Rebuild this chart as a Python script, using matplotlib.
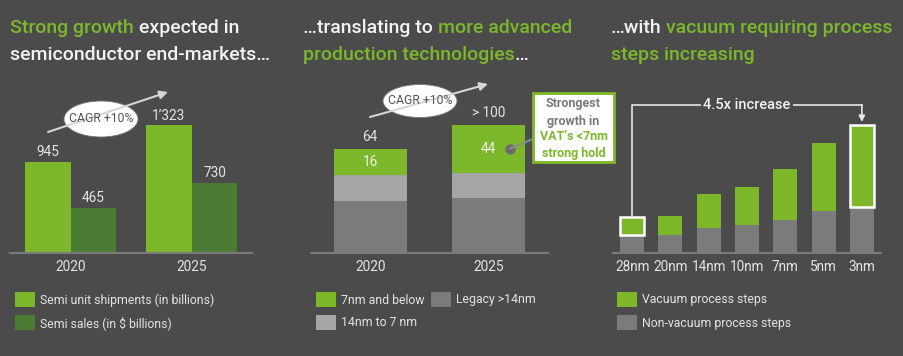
import numpy as np
import matplotlib.pyplot as plt
from matplotlib.patches import Ellipse, Rectangle, ConnectionPatch

W, H = 904, 356
BG = '#4b4b4b'
GREEN = '#7cb82a'
DGREEN = '#4a7d33'
LGRAY = '#a6a6a6'
MGRAY = '#7b7b7b'
WHITE = '#f2f2f2'
TXT = '#e4e4e4'
AXIS = '#7a7a7a'

plt.rcParams['font.family'] = ['Roboto', 'DejaVu Sans']

# panel 1: end markets
years = ['2020', '2025']
unit_shipments = [945, 1323]
semi_sales = [465, 730]
shipment_labels = ['945', '1\u2019323']
sales_labels = ['465', '730']

# panel 2: production technologies (bar heights as drawn)
legacy = [32, 34]
mid_nodes = [16, 15.5]
adv_nodes = [16, 29.5]
total_labels = ['64', '> 100']
adv_labels = ['16', '44']

# panel 3: process steps per node
nodes = ['28nm', '20nm', '14nm', '10nm', '7nm', '5nm', '3nm']
non_vacuum = [18, 18, 25, 28, 33, 42, 46]
vacuum = [18, 19, 34, 38, 51, 68, 82]

fig = plt.figure(figsize=(W / 100, H / 100), dpi=100, facecolor=BG)


def px_axes(left, right, top, bottom):
    return fig.add_axes([left / W, 1 - bottom / H, (right - left) / W, (bottom - top) / H])


def style(ax):
    ax.set_facecolor('none')
    for s in ['top', 'right', 'left']:
        ax.spines[s].set_visible(False)
    ax.spines['bottom'].set_color(AXIS)
    ax.spines['bottom'].set_linewidth(1.5)
    ax.tick_params(axis='x', length=0, pad=5, labelsize=9.8, labelcolor=TXT)
    ax.set_yticks([])


# overlay in pixel coordinates for titles, legends, callouts
ov = fig.add_axes([0, 0, 1, 1], zorder=10)
ov.set_xlim(0, W)
ov.set_ylim(H, 0)
ov.axis('off')

renderer = fig.canvas.get_renderer()


def text_width(s, size, weight):
    t = ov.text(0, 0, s, fontsize=size, fontweight=weight)
    w = t.get_window_extent(renderer).width
    t.remove()
    return w


def rich_line(x, y, parts, size=14, weight='medium'):
    space = text_width('a a', size, weight) - text_width('aa', size, weight)
    for s, c in parts:
        lead = len(s) - len(s.lstrip(' '))
        x += lead * space
        core = s.strip(' ')
        t = ov.text(x, y, core, color=c, fontsize=size, fontweight=weight, va='baseline', ha='left')
        x += t.get_window_extent(renderer).width
        x += (len(s) - len(s.rstrip(' '))) * space


# ---- panel 1
ax1 = px_axes(10, 252, 60, 253)
style(ax1)
x = np.arange(len(years))
bw = 0.38
b1 = ax1.bar(x - bw / 2, unit_shipments, bw, color=GREEN)
b2 = ax1.bar(x + bw / 2, semi_sales, bw, color=DGREEN)
ax1.set_xlim(-0.5, 1.5)
ax1.set_ylim(0, 2000)
ax1.set_xticks(x, years)
ax1.bar_label(b1, labels=shipment_labels, padding=2, color=TXT, fontsize=9.8)
ax1.bar_label(b2, labels=sales_labels, padding=2, color=TXT, fontsize=9.8)

# ---- panel 2
ax2 = px_axes(311, 548, 60, 253)
style(ax2)
bw2 = 0.62
ax2.bar(x, legacy, bw2, color=MGRAY)
ax2.bar(x, mid_nodes, bw2, bottom=legacy, color=LGRAY)
bottom_adv = np.add(legacy, mid_nodes)
adv = ax2.bar(x, adv_nodes, bw2, bottom=bottom_adv, color=GREEN)
ax2.set_xlim(-0.5, 1.5)
ax2.set_ylim(0, 193 / 1.625)
ax2.set_xticks(x, years)
totals = bottom_adv + np.array(adv_nodes)
for xi, t, lab in zip(x, totals, total_labels):
    ax2.text(xi, t + 3, lab, ha='center', va='bottom', color=TXT, fontsize=9.8)
ax2.bar_label(adv, labels=adv_labels, label_type='center', color=WHITE, fontsize=9.8)

dot_y = bottom_adv[1] + adv_nodes[1] / 2
ax2.plot([1.18], [dot_y], 'o', color='#6a6a6a', ms=6.5, clip_on=False, zorder=5)
con = ConnectionPatch(xyA=(1.18, dot_y), coordsA=ax2.transData, xyB=(533, 139), coordsB=ov.transData,
                      color='#8a8a8a', lw=1.5)
fig.add_artist(con)
ov.add_patch(Rectangle((533, 93), 81, 69, facecolor='white', edgecolor=GREEN, lw=2))
for yy, s, c in [(104, 'Strongest', '#7a7a7a'), (121, 'growth in', '#7a7a7a'),
                 (137, 'VAT\u2019s <7nm', GREEN), (154, 'strong hold', GREEN)]:
    ov.text(573.5, yy, s, ha='center', va='center', color=c, fontsize=9, fontweight='bold')

# ---- panel 3
ax3 = px_axes(613, 881, 60, 253)
style(ax3)
x3 = np.arange(len(nodes))
bw3 = 0.63
ax3.bar(x3, non_vacuum, bw3, color=MGRAY)
vac = ax3.bar(x3, vacuum, bw3, bottom=non_vacuum, color=GREEN)
for i in (0, len(nodes) - 1):
    vac[i].set_edgecolor('white')
    vac[i].set_linewidth(1.8)
ax3.set_xlim(-0.5, 6.5)
ax3.set_ylim(0, 193)
ax3.set_xticks(x3, nodes)

tot3 = np.add(non_vacuum, vacuum)
top_y = 148
ax3.plot([0, 0, 6, 6], [tot3[0] + 1, top_y, top_y, top_y], color='#e6e6e6', lw=1.2, clip_on=False)
ax3.annotate('', xy=(6, tot3[-1] + 3), xytext=(6, top_y),
             arrowprops=dict(arrowstyle='-|>', color='#e6e6e6', lw=1.2, mutation_scale=9,
                             shrinkA=0, shrinkB=0), annotation_clip=False)
ax3.text(3, top_y, '4.5x increase', ha='center', va='center', color=WHITE, fontsize=10.5,
         fontweight='medium', bbox=dict(facecolor=BG, edgecolor='none', pad=1.5))

# ---- CAGR bubbles
for (x0, y0), (x1, y1), (cx, cy), (ew, eh) in [((48, 132), (168, 92), (101, 119), (74, 36)),
                                                  ((370, 117), (488, 84), (420, 101), (74, 33))]:
    ov.annotate('', xy=(x1, y1), xytext=(x0, y0),
                arrowprops=dict(arrowstyle='-|>', color='#d6d6d6', lw=1.5, mutation_scale=12,
                                shrinkA=0, shrinkB=0))
    ov.add_patch(Ellipse((cx, cy), ew, eh, facecolor='white', edgecolor='#777777', lw=0.6))
    ov.text(cx, cy, 'CAGR +10%', ha='center', va='center', color='#555555', fontsize=8.8)

# ---- titles
rich_line(10, 33, [('Strong growth', GREEN), (' expected in', WHITE)])
rich_line(10, 60, [('semiconductor end-markets\u2026', WHITE)])
rich_line(303, 33, [('\u2026translating to ', WHITE), ('more advanced', GREEN)])
rich_line(303, 60, [('production technologies', GREEN), ('\u2026', WHITE)])
rich_line(611, 33, [('\u2026with ', WHITE), ('vacuum requiring process', GREEN)])
rich_line(611, 60, [('steps increasing', GREEN)])

# ---- legends
legend_items = [
    (15, 292, GREEN, 'Semi unit shipments (in billions)'),
    (15, 315, DGREEN, 'Semi sales (in $ billions)'),
    (316, 292, GREEN, '7nm and below'),
    (431, 292, MGRAY, 'Legacy >14nm'),
    (316, 315, LGRAY, '14nm to 7 nm'),
    (617, 292, GREEN, 'Vacuum process steps'),
    (617, 315, MGRAY, 'Non-vacuum process steps'),
]
for lx, ly, c, lab in legend_items:
    ov.add_patch(Rectangle((lx, ly), 20, 15, facecolor=c, edgecolor='none'))
    ov.text(lx + 25, ly + 8, lab, ha='left', va='center', color=TXT, fontsize=8.8)

fig.savefig('out.png', dpi=100, facecolor=BG)
